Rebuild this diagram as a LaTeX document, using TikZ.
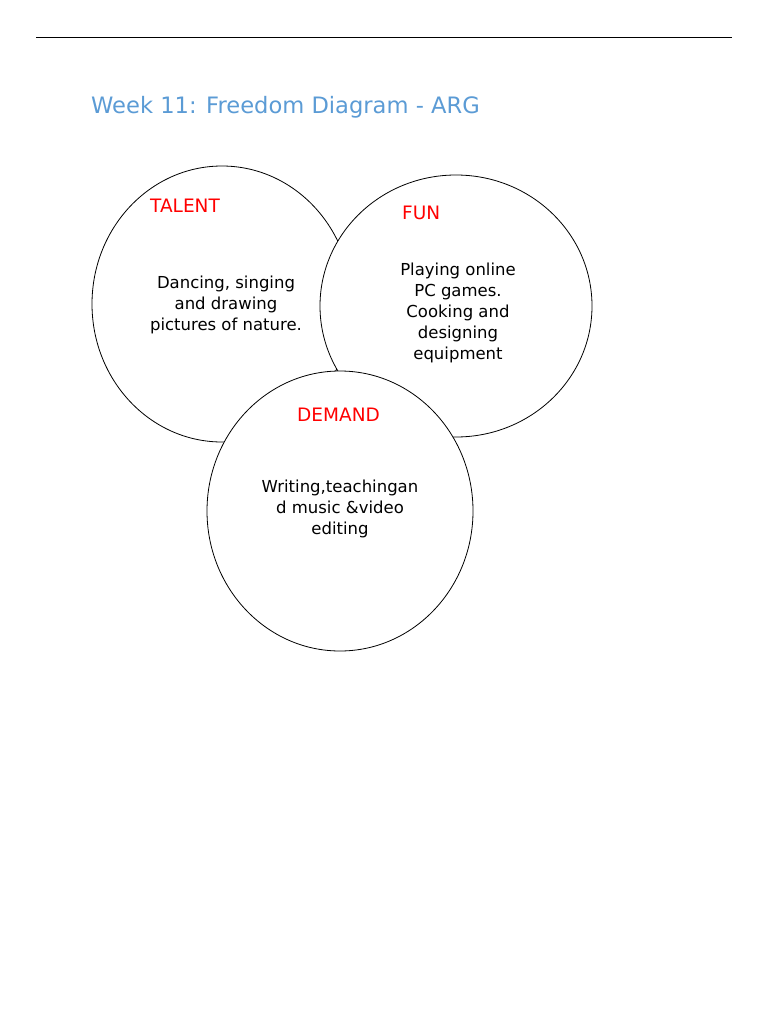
\documentclass[tikz,border=0pt]{standalone}
\usepackage{fontspec}
\setmainfont{DejaVu Sans}
\usetikzlibrary{shapes.geometric}
\definecolor{titleblue}{RGB}{91,155,213}
\begin{document}
\begin{tikzpicture}[x=1pt,y=-1pt,
  blob/.style={draw=black,fill=white,line width=0.8pt},
  lbl/.style={text=red,font=\fontsize{18.5}{22}\selectfont,anchor=west,inner sep=0pt},
  body/.style={align=center,font=\fontsize{16.5}{21}\selectfont,inner sep=0pt}]
\useasboundingbox (0,0) rectangle (768,1024);
\draw[line width=0.8pt] (36,37) coordinate (l1) -- (732,37) coordinate (l2);
\node[anchor=west,inner sep=0pt,text=titleblue,font=\fontsize{22.6}{26}\selectfont] (title) at (91,107) {Week 11: Freedom Diagram - ARG};
\draw[blob] (222,304) ellipse (130 and 138);
\node (talentc) at (222,304) {};
\draw[blob] (456,306) ellipse (136 and 131);
\node (func) at (456,306) {};
\draw[blob] (340,511) ellipse (133 and 140);
\node (demandc) at (340,511) {};
\node[lbl] (talent) at (150,206) {TALENT};
\node[lbl] (fun) at (402,213) {FUN};
\node[lbl] (demand) at (297,415) {DEMAND};
\node[body] (tb) at (226,305) {Dancing, singing\\and drawing\\pictures of nature.};
\node[body] (fb) at (458,313) {Playing online\\PC games.\\Cooking and\\designing\\equipment};
\node[body] (db) at (340,509) {Writing,teachingan\\d music \&video\\editing};
\end{tikzpicture}
\end{document}
